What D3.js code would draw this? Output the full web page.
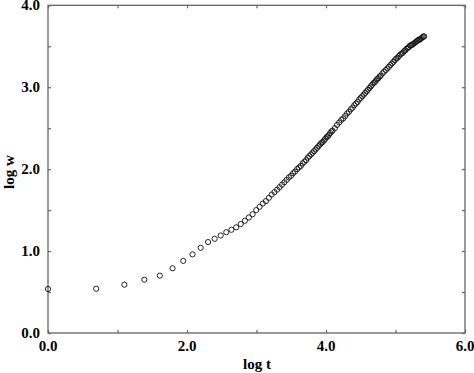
<!DOCTYPE html>
<html><head><meta charset="utf-8">
<script src="https://cdn.jsdelivr.net/npm/d3@7"></script>
<style>body{margin:0;background:#fff}svg{display:block}</style>
</head><body>
<svg id="c" width="474" height="373"></svg>
<script>
// log t values of the plotted points
const logT = [0,0.693,1.099,1.386,1.609,1.792,1.946,2.079,2.197,2.303,2.398,2.485,2.565,2.639,2.708,2.773,2.833,2.890,2.944,2.996,
3.045,3.091,3.135,3.178,3.219,3.258,3.296,3.332,3.367,3.401,3.434,3.466,3.497,3.526,3.555,3.584,3.611,3.638,3.664,3.689,
3.714,3.738,3.761,3.784,3.807,3.829,3.850,3.871,3.892,3.912,3.932,3.951,3.970,3.989,4.007,4.025,4.043,4.060,4.078,4.094,
4.127,4.159,4.190,4.220,4.248,4.277,4.304,4.331,4.357,4.382,4.407,4.431,4.454,4.477,4.500,4.522,4.543,4.564,4.585,4.605,
4.625,4.644,4.663,4.682,4.700,4.718,4.736,4.754,4.771,4.787,4.812,4.836,4.860,4.883,4.905,4.927,4.949,4.970,4.990,5.011,
5.030,5.050,5.069,5.088,5.106,5.124,5.142,5.159,5.176,5.193,5.209,5.226,5.242,5.257,5.273,5.288,5.303,5.318,5.333,5.347,
5.361,5.375,5.389,5.403,5.412];
// log w values of the plotted points
const logW = [0.537,0.54,0.59,0.65,0.70,0.79,0.88,0.96,1.04,1.11,1.15,1.19,1.23,1.26,1.29,1.33,1.37,1.41,1.45,1.50,
1.54,1.58,1.61,1.65,1.69,1.72,1.75,1.78,1.81,1.84,1.87,1.90,1.92,1.95,1.97,2.00,2.02,2.04,2.07,2.09,
2.11,2.14,2.16,2.18,2.20,2.22,2.24,2.26,2.28,2.30,2.32,2.33,2.35,2.37,2.39,2.40,2.42,2.44,2.46,2.47,
2.50,2.54,2.57,2.60,2.62,2.65,2.68,2.70,2.73,2.75,2.78,2.80,2.82,2.85,2.87,2.89,2.91,2.93,2.95,2.97,
2.99,3.01,3.03,3.05,3.06,3.08,3.10,3.11,3.13,3.14,3.17,3.19,3.21,3.23,3.25,3.27,3.29,3.31,3.33,3.35,
3.36,3.38,3.40,3.41,3.42,3.44,3.45,3.47,3.48,3.49,3.51,3.51,3.52,3.53,3.54,3.55,3.56,3.57,3.58,3.58,
3.59,3.60,3.61,3.62,3.62];
const xTickLabels = ["0.0","2.0","4.0","6.0"];
const yTickLabels = ["0.0","1.0","2.0","3.0","4.0"];
const xLabel = "log t", yLabel = "log w";

const svg = d3.select("#c");
const L = 48, R = 465, T = 5.3, B = 333;
const x = d3.scaleLinear().domain([0, 6]).range([L, R]);
const y = d3.scaleLinear().domain([0, 4]).range([B, T]);
const font = "'Liberation Serif','Times New Roman',serif";
const axisCol = "#666";

// frame
svg.append("rect").attr("x", L).attr("y", T).attr("width", R - L).attr("height", B - T)
  .attr("fill", "none").attr("stroke", axisCol).attr("stroke-width", 1.3);

// inward ticks via d3 axes
const tk = 3;
const xb = svg.append("g").attr("transform", `translate(0,${B})`)
  .call(d3.axisTop(x).tickValues(d3.range(0, 6.01, 1)).tickSize(tk).tickFormat(""));
const xt = svg.append("g").attr("transform", `translate(0,${T})`)
  .call(d3.axisBottom(x).tickValues(d3.range(0, 6.01, 1)).tickSize(tk).tickFormat(""));
const yl = svg.append("g").attr("transform", `translate(${L},0)`)
  .call(d3.axisRight(y).tickValues(d3.range(0, 4.01, 0.5)).tickSize(tk).tickFormat(""));
const yr = svg.append("g").attr("transform", `translate(${R},0)`)
  .call(d3.axisLeft(y).tickValues(d3.range(0, 4.01, 0.5)).tickSize(tk).tickFormat(""));
[xb, xt, yl, yr].forEach(g => {
  g.select(".domain").remove();
  g.selectAll("line").attr("stroke", axisCol).attr("stroke-width", 1.2);
});

// tick labels
svg.append("g").selectAll("text").data(xTickLabels).join("text")
  .attr("x", d => x(+d)).attr("y", 351)
  .attr("text-anchor", "middle").attr("font-family", font).attr("font-weight", "bold")
  .attr("font-size", 15).text(d => d);
svg.append("g").selectAll("text").data(yTickLabels).join("text")
  .attr("x", 40).attr("y", d => y(+d) + 5)
  .attr("text-anchor", "end").attr("font-family", font).attr("font-weight", "bold")
  .attr("font-size", 15).text(d => d);

// axis titles
svg.append("text").attr("x", 257).attr("y", 369).attr("text-anchor", "middle")
  .attr("font-family", font).attr("font-weight", "bold").attr("font-size", 15).text(xLabel);
svg.append("text").attr("transform", "translate(14,172) rotate(-90)").attr("text-anchor", "middle")
  .attr("font-family", font).attr("font-weight", "bold").attr("font-size", 15).text(yLabel);

// points
svg.append("g").selectAll("circle").data(d3.range(logT.length)).join("circle")
  .attr("cx", i => x(logT[i])).attr("cy", i => y(logW[i])).attr("r", 2.6)
  .attr("fill", "none").attr("stroke", "#111").attr("stroke-width", 0.9);
</script>
</body></html>
